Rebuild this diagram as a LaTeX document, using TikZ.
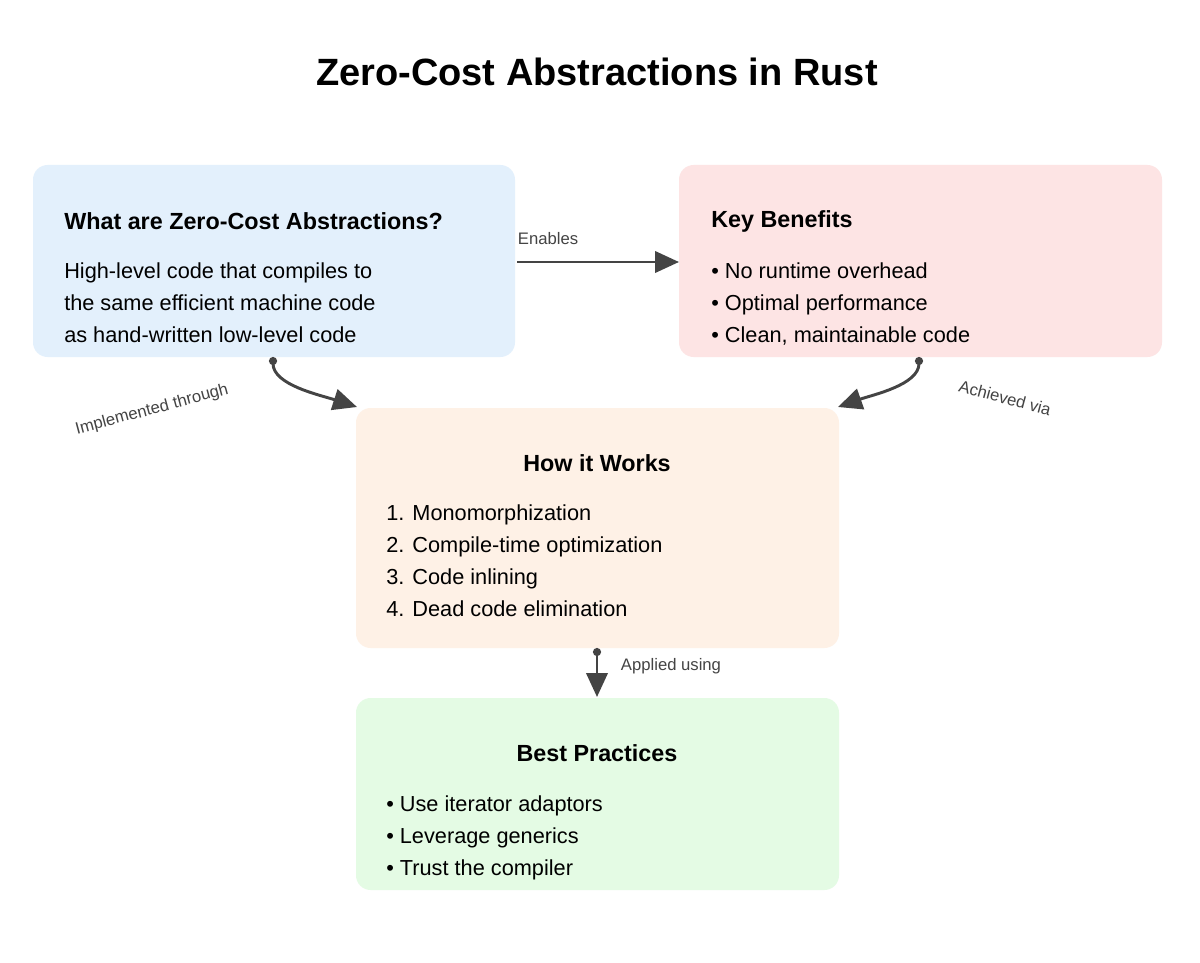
\documentclass[tikz,border=0pt]{standalone}
\usepackage{fontspec}
\setmainfont{Liberation Sans}
\usetikzlibrary{arrows.meta}
\definecolor{bluef}{HTML}{E3F0FC}
\definecolor{redf}{HTML}{FDE4E4}
\definecolor{orgf}{HTML}{FEF1E6}
\definecolor{grnf}{HTML}{E4FBE4}
\definecolor{arr}{HTML}{444444}
\tikzset{
 box/.style={rounded corners=11pt,draw=none},
 ttl/.style={font=\bfseries\fontsize{17.5}{20}\selectfont,text=black},
 body/.style={font=\fontsize{16.3}{24}\selectfont,text=black,align=left,anchor=north west,inner sep=0},
 lbl/.style={font=\fontsize{12.5}{14}\selectfont,text=arr},
 con/.style={draw=arr,line width=2.2pt,{Circle[length=6pt]}-{Triangle[length=18pt,width=16pt]}},
 con2/.style={draw=arr,line width=2.2pt,-{Triangle[length=18pt,width=16pt]}}
}
\begin{document}
\begin{tikzpicture}[x=0.75pt,y=-0.75pt]
\useasboundingbox[fill=white] (0,0) rectangle (1200,963);
\node[font=\bfseries\fontsize{28.5}{32}\selectfont] (title) at (597,72) {Zero-Cost Abstractions in Rust};
\path[box,fill=bluef] (33,165) rectangle (515,357);
\path[box,fill=redf] (679,165) rectangle (1162,357);
\path[box,fill=orgf] (356,408) rectangle (839,648);
\path[box,fill=grnf] (356,698) rectangle (839,890);
\node[ttl,anchor=west,inner sep=0] (t1) at (64,221) {What are Zero-Cost Abstractions?};
\node[body] (b1) at (64,262) {High-level code that compiles to\\the same efficient machine code\\as hand-written low-level code};
\node[ttl,anchor=west,inner sep=0] (t2) at (711,221) {Key Benefits};
\node[body] (b2) at (711,262) {• No runtime overhead\\• Optimal performance\\• Clean, maintainable code};
\node[ttl] (t3) at (597,463) {How it Works};
\node[body] (b3) at (386,504) {1. Monomorphization\\2. Compile-time optimization\\3. Code inlining\\4. Dead code elimination};
\node[ttl] (t4) at (597,753) {Best Practices};
\node[body] (b4) at (386,795) {• Use iterator adaptors\\• Leverage generics\\• Trust the compiler};
\coordinate (e1) at (517,262);
\coordinate (e2) at (679,262);
\coordinate (i1) at (273,357);
\coordinate (i2) at (357,407);
\coordinate (a1) at (919,357);
\coordinate (a2) at (838,407);
\coordinate (p1) at (597,648);
\coordinate (p2) at (597,697);
\draw[con2] (e1) -- (e2);
\draw[con] (i1) .. controls (273,385) and (320,395) .. (i2);
\draw[con] (a1) .. controls (919,385) and (872,395) .. (a2);
\draw[con] (p1) -- (p2);
\node[lbl] (l1) at (548,239) {Enables};
\node[lbl,rotate=15] (l2) at (152,410) {Implemented through};
\node[lbl,rotate=-15] (l3) at (1005,398) {Achieved via};
\node[lbl] (l4) at (671,666) {Applied using};
\end{tikzpicture}
\end{document}
